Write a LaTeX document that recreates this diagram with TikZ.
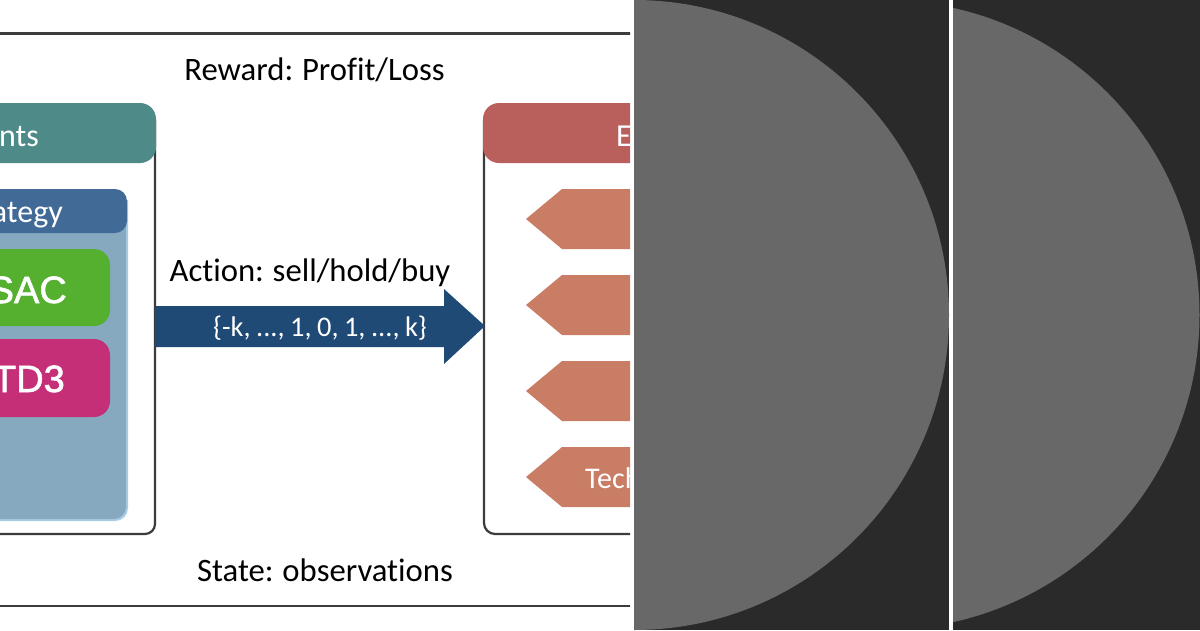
\documentclass[tikz,border=0pt]{standalone}
\usepackage{fontspec}
\setmainfont{Carlito}[Ligatures=NoCommon,WordSpace=0.85]
\newfontfamily\algofont{Liberation Sans}[FakeBold=1.5]
\definecolor{framec}{HTML}{3C3C3C}
\definecolor{tealc}{HTML}{4E8A87}
\definecolor{stratc}{HTML}{426A96}
\definecolor{stratbg}{HTML}{86A9BF}
\definecolor{stratedge}{HTML}{A6CDE3}
\definecolor{sacc}{HTML}{55B030}
\definecolor{tdc}{HTML}{C52F78}
\definecolor{envc}{HTML}{B9605C}
\definecolor{tagc}{HTML}{C97D65}
\definecolor{arrowc}{HTML}{1F4A75}
\definecolor{darkp}{HTML}{2A2A2A}
\definecolor{discc}{HTML}{686868}
\tikzset{
  frameline/.style={draw=framec,line width=2.2pt},
  blacklabel/.style={text=black,font=\fontsize{32.7}{33}\selectfont,inner sep=0pt,anchor=base},
  headlabel/.style={text=white,font=\fontsize{32}{32}\selectfont,inner sep=0pt},
  algolabel/.style={text=white,font=\algofont\fontsize{38}{38}\selectfont,inner sep=0pt,anchor=base east},
  tagshape/.style={fill=tagc},
}
\begin{document}
\begin{tikzpicture}[x=1pt,y=-1pt]
\useasboundingbox (0,0) rectangle (1200,630);
\fill[white] (0,0) rectangle (1200,630);
\begin{scope}
\clip (0,0) rectangle (630,630);
\draw[frameline] (-20,33.5) -- (650,33.5);
\draw[frameline] (-20,606) -- (650,606);
% agents box
\draw[frameline] (-20,534) -- (145,534) arc[start angle=90,end angle=0,radius=10] -- (155,120);
\fill[tealc] (-20,103) -- (140,103) arc[start angle=-90,end angle=0,radius=16] -- (156,147) arc[start angle=0,end angle=90,radius=16] -- (-20,163) -- cycle;
\node[headlabel,anchor=base east] (agents) at (39,146) {nts};
% strategy
\fill[stratedge] (-20,200) -- (128,200) -- (128,508) arc[start angle=0,end angle=90,radius=13] -- (-20,521) -- cycle;
\fill[stratbg] (-20,200) -- (126,200) -- (126,507) arc[start angle=0,end angle=90,radius=12] -- (-20,519) -- cycle;
\fill[stratc] (-20,189) -- (115,189) arc[start angle=-90,end angle=0,radius=12] -- (127,221) arc[start angle=0,end angle=90,radius=12] -- (-20,233) -- cycle;
\node[headlabel,anchor=base east] (strategy) at (63,222) {ategy};
\fill[sacc] (-20,249) -- (94,249) arc[start angle=-90,end angle=0,radius=16] -- (110,310) arc[start angle=0,end angle=90,radius=16] -- (-20,326) -- cycle;
\node[algolabel] (sac) at (67,303) {SAC};
\fill[tdc] (-20,339) -- (94,339) arc[start angle=-90,end angle=0,radius=16] -- (110,401) arc[start angle=0,end angle=90,radius=16] -- (-20,417) -- cycle;
\node[algolabel] (td) at (65,392) {TD3};
% environment
\draw[frameline] (650,534) -- (495,534) arc[start angle=90,end angle=180,radius=11] -- (484,120);
\fill[envc] (650,103) -- (499,103) arc[start angle=-90,end angle=-180,radius=16] -- (483,147) arc[start angle=180,end angle=90,radius=16] -- (650,163) -- cycle;
\node[headlabel,anchor=base west] (env) at (616,146) {E};
\fill[tagshape] (650,189) -- (562,189) -- (526,219) -- (562,249) -- (650,249) -- cycle;
\fill[tagshape] (650,275) -- (562,275) -- (526,305) -- (562,335) -- (650,335) -- cycle;
\fill[tagshape] (650,361) -- (562,361) -- (526,391) -- (562,421) -- (650,421) -- cycle;
\fill[tagshape] (650,447) -- (562,447) -- (526,477) -- (562,507) -- (650,507) -- cycle;
\node[headlabel,anchor=base west,font=\fontsize{30}{30}\selectfont] (tech) at (585,488) {Tech};
% arrow
\fill[arrowc] (155,306) -- (444,306) -- (444,289) -- (485,326) -- (444,364) -- (444,347) -- (155,347) -- cycle;
\node[text=white,font=\fontsize{28.4}{29}\selectfont,inner sep=0pt,anchor=base] (range) at (320,336) {\{-k, ..., 1, 0, 1, ..., k\}};
\node[blacklabel] (action) at (310,281) {Action: sell/hold/buy};
\node[blacklabel] (reward) at (314.5,80) {Reward: Profit/Loss};
\node[blacklabel] (state) at (325,581) {State: observations};
\end{scope}
% right panels
\fill[darkp] (634,0) rectangle (949,630);
\begin{scope}
\clip (634,0) rectangle (949,630);
\fill[discc] (634,315) circle[radius=315];
\end{scope}
\fill[darkp] (953,0) rectangle (1200,630);
\begin{scope}
\clip (953,0) rectangle (1200,630);
\fill[discc] (885,315) circle[radius=314.5];
\end{scope}
\end{tikzpicture}
\end{document}
